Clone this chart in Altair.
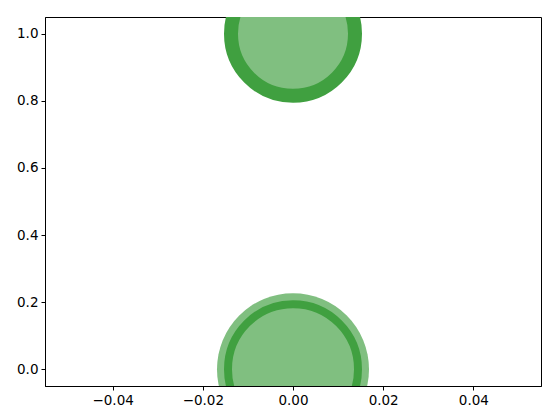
import altair as alt
import pandas as pd

# Data
xs = [0.0, 0.0]
ys = [1.0, 0.0]
labels = ["top", "bottom"]
x_ticks = [-0.04, -0.02, 0.0, 0.02, 0.04]
y_ticks = [0.0, 0.2, 0.4, 0.6, 0.8, 1.0]

df = pd.DataFrame({"x": xs, "y": ys, "label": labels})

LIGHT = "#80bf80"
DARK = "#40a040"

axis_style = dict(title=None, grid=False, tickSize=4, tickColor="black",
                  domainColor="black", labelColor="black", labelFontSize=13.5,
                  labelFont="DejaVu Sans", labelPadding=3)

xenc = alt.X("x:Q", scale=alt.Scale(domain=[-0.055, 0.055], nice=False, zero=False),
             axis=alt.Axis(values=x_ticks, format=".2f", **axis_style))
yenc = alt.Y("y:Q", scale=alt.Scale(domain=[-0.05, 1.05], nice=False, zero=False),
             axis=alt.Axis(values=y_ticks, format=".1f", **axis_style))

base = alt.Chart(df).encode(x=xenc, y=yenc)

outer = base.transform_filter(alt.datum.label == "bottom").mark_circle(
    clip=True, size=23104, color=LIGHT, opacity=1)
ring_bottom = base.transform_filter(alt.datum.label == "bottom").mark_point(
    clip=True, shape="circle", size=16900, fill=LIGHT, filled=True, stroke=DARK,
    strokeWidth=8, opacity=1, fillOpacity=1, strokeOpacity=1)
ring_top = base.transform_filter(alt.datum.label == "top").mark_point(
    clip=True, shape="circle", size=15376, fill=LIGHT, filled=True, stroke=DARK,
    strokeWidth=14, opacity=1, fillOpacity=1, strokeOpacity=1)

chart = alt.layer(outer, ring_bottom, ring_top).properties(
    width=496, height=369,
    autosize=alt.AutoSizeParams(type="none"),
    padding={"left": 37, "top": 9, "right": 6, "bottom": 30},
    background="white",
).configure_view(stroke="black", strokeWidth=1)

chart.save("out.html", embed_options={"renderer": "svg", "actions": False})
